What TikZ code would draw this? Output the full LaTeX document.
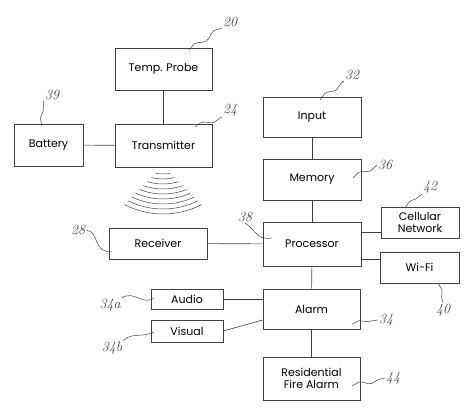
\documentclass[tikz,border=0pt]{standalone}
\usepackage{fontspec}
\setsansfont{Poppins}
\usetikzlibrary{decorations.pathmorphing}

\tikzset{
  block/.style={shape=rectangle,draw=black!75,line width=0.6pt,font=\sffamily\fontsize{11}{11.5}\selectfont,align=center,inner sep=1pt},
  conn/.style={draw=black!75,line width=0.6pt},
  refno/.style={font=\itshape\fontsize{14}{14}\selectfont,text=black!75,inner sep=1pt},
  lead/.style={draw=black!75,line width=0.5pt,decorate,decoration={snake,amplitude=2.2pt,segment length=24pt}}
}

\begin{document}
\begin{tikzpicture}[x=1pt,y=1pt]
            \useasboundingbox (0,0) rectangle (474,418);
            % blocks
            \node[block,minimum width=97,minimum height=42] (probe) at (163.5,349) {Temp. Probe};
            \node[block,minimum width=97,minimum height=43] (trans) at (163.5,272.5) {Transmitter};
            \node[block,minimum width=69,minimum height=42] (batt) at (48.5,273) {Battery};
            \node[block,minimum width=98,minimum height=31] (recv) at (158,174.5) {Receiver};
            \node[block,minimum width=98,minimum height=40] (input) at (312,301) {Input};
            \node[block,minimum width=98,minimum height=41] (mem) at (312,238.5) {Memory};
            \node[block,minimum width=98,minimum height=44] (proc) at (312,174) {Processor};
            \node[block,minimum width=78,minimum height=31] (cell) at (420,195.5) {Cellular\\Network};
            \node[block,minimum width=79,minimum height=31] (wifi) at (419.5,150.5) {Wi-Fi};
            \node[block,minimum width=97,minimum height=40] (alarm) at (311.5,109) {Alarm};
            \node[block,minimum width=97,minimum height=43] (fire) at (311.5,39.5) {Residential\\Fire Alarm};
            \node[block,minimum width=72,minimum height=20] (audio) at (187,119) {Audio};
            \node[block,minimum width=72,minimum height=22] (visual) at (187,87) {Visual};

            % edges
            \path [conn](probe) edge (trans);
            \path [conn](batt) edge (trans);
            \path [conn](recv) edge (proc);
            \path [conn](input) edge (mem);
            \path [conn](mem) edge (proc);
            \path [conn](proc) edge (alarm);
            \path [conn](alarm) edge (fire);
            \coordinate (pc) at ([yshift=12]proc.east);
            \coordinate (pw) at ([yshift=-15]proc.east);
            \coordinate (av) at ([yshift=-11]alarm.west);
            \path [conn](pc) edge (pc -| cell.west);
            \path [conn](pw) edge (pw -| wifi.west);
            \path [conn](audio.east) edge (audio.east -| alarm.west);
            \path [conn](visual.east) edge (av);

            % radio waves
            \coordinate (wc) at (163,288);
            \foreach \r in {44,49,...,84}{
              \pgfmathsetmacro\ang{acos(36/(1.4142*\r))-45}
              \draw[black!75,line width=0.5pt] (wc) ++(270-\ang:\r pt) arc[start angle=270-\ang,end angle=270+\ang,radius=\r pt];
            }

            % reference numbers
            \node[refno] (n20) at (230,396) {20};
            \node[refno] (n39) at (52,323) {39};
            \node[refno] (n24) at (230,308) {24};
            \node[refno] (n32) at (352,343) {32};
            \node[refno] (n36) at (385,253) {36};
            \node[refno] (n42) at (430,231) {42};
            \node[refno] (n38) at (245,201) {38};
            \node[refno] (n28) at (78,188) {28};
            \node[refno] (n40) at (443,108) {40};
            \node[refno] (n34) at (386,98) {34};
            \node[refno] (n44) at (393,40) {44};
            \node[refno] (n34a) at (110,113) {34a};
            \node[refno] (n34b) at (112,70) {34b};

            % leaders
            \coordinate (t20) at (189,368);
            \coordinate (t39) at (42,292);
            \coordinate (t24) at (195,291);
            \coordinate (t32) at (320,318);
            \coordinate (t36) at (353,240);
            \coordinate (t42) at (405,210);
            \coordinate (t38) at (272,180);
            \coordinate (t28) at (112,166);
            \coordinate (t40) at (438,135);
            \coordinate (t34) at (352,94);
            \coordinate (t44) at (352,32);
            \coordinate (t34a) at (154,120);
            \coordinate (t34b) at (154,86);
            \path [lead](t20) -- (n20.south west);
            \path [lead](t39) -- (n39.south west);
            \path [lead](t24) -- (n24.south west);
            \path [lead](t32) -- (n32.south west);
            \path [lead](t36) -- (n36.west);
            \path [lead](t42) -- (n42.south west);
            \path [lead](t40) -- (n40.north);
            \path [lead](t34) -- (n34.west);
            \path [lead](t44) -- (n44.west);
            \draw [black!75,line width=0.5pt](n38.south) .. controls (258,186) and (256,178) .. (t38);
            \draw [black!75,line width=0.5pt](n28.east) .. controls (100,186) and (92,166) .. (t28);
            \draw [black!75,line width=0.5pt](n34a.north east) .. controls (135,128) and (142,112) .. (t34a);
            \draw [black!75,line width=0.5pt](n34b.north east) .. controls (132,86) and (142,80) .. (t34b);
        \end{tikzpicture}
\end{document}
